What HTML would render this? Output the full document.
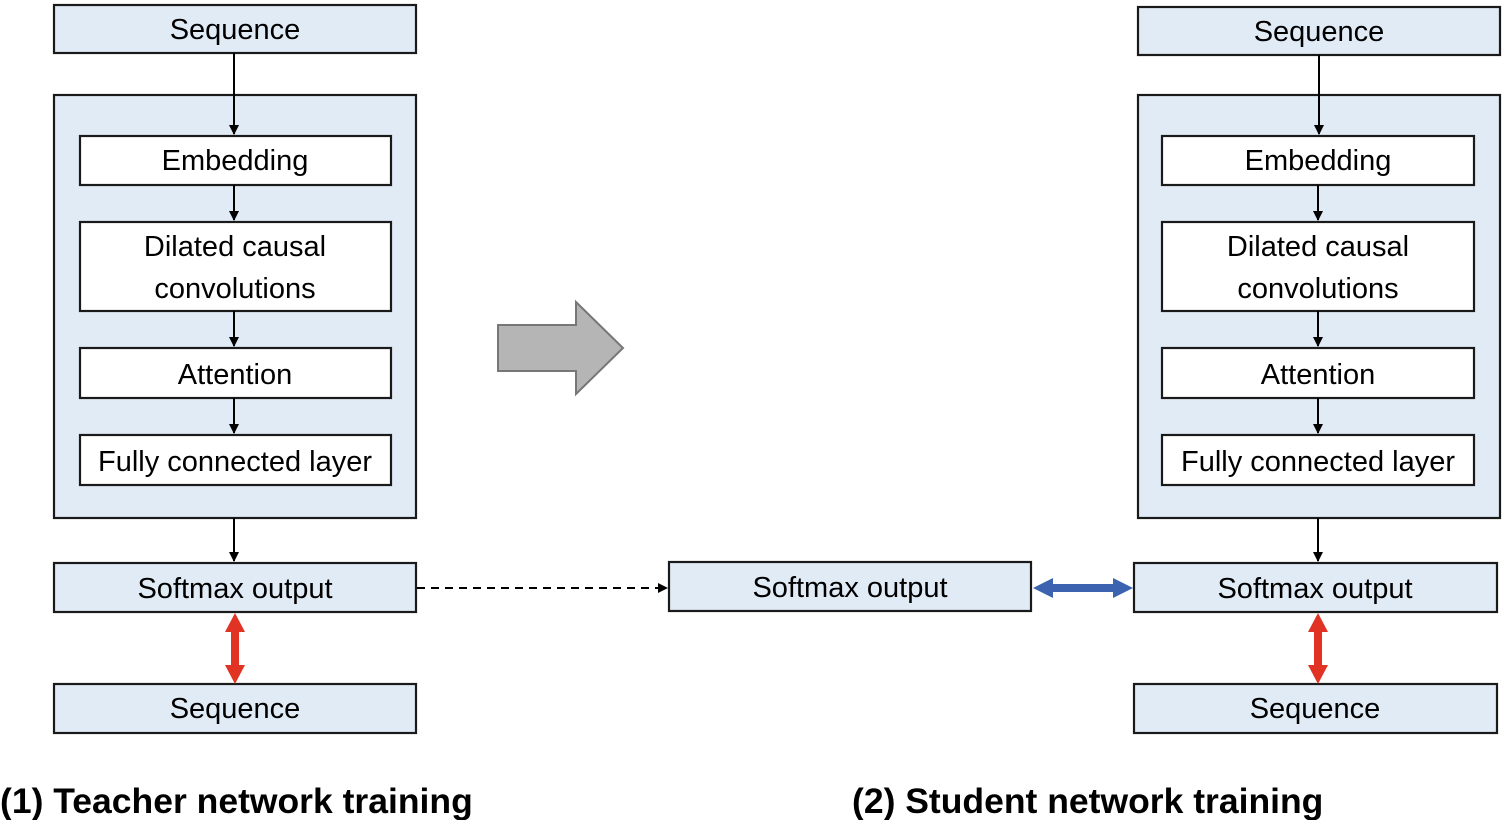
<!DOCTYPE html>
<html><head><meta charset="utf-8"><style>html,body{margin:0;padding:0;background:#fff}</style></head>
<body>
<svg width="1502" height="820" xmlns="http://www.w3.org/2000/svg" font-family="Liberation Sans, Arial, sans-serif">
<defs>
<marker id="a" markerWidth="10" markerHeight="10" refX="9" refY="5" orient="auto" markerUnits="userSpaceOnUse"><path d="M0,0 L10,5 L0,10 z" fill="#000"/></marker>
</defs>
<g stroke="#1a1a1a" stroke-width="2.2">
<rect x="54" y="5" width="362" height="48" fill="#e1ebf6"/>
<rect x="54" y="95" width="362" height="423" fill="#e1ebf6"/>
<rect x="80" y="136" width="311" height="49" fill="#fff"/>
<rect x="80" y="222" width="311" height="89" fill="#fff"/>
<rect x="80" y="348" width="311" height="50" fill="#fff"/>
<rect x="80" y="435" width="311" height="50" fill="#fff"/>
<rect x="54" y="563" width="362" height="49" fill="#e1ebf6"/>
<rect x="54" y="684" width="362" height="49" fill="#e1ebf6"/>
<rect x="1138" y="7" width="362" height="48" fill="#e1ebf6"/>
<rect x="1138" y="95" width="362" height="423" fill="#e1ebf6"/>
<rect x="1162" y="136" width="312" height="49" fill="#fff"/>
<rect x="1162" y="222" width="312" height="89" fill="#fff"/>
<rect x="1162" y="348" width="312" height="50" fill="#fff"/>
<rect x="1162" y="435" width="312" height="50" fill="#fff"/>
<rect x="1134" y="563" width="363" height="49" fill="#e1ebf6"/>
<rect x="1134" y="684" width="363" height="49" fill="#e1ebf6"/>
<rect x="669" y="562" width="362" height="49" fill="#e1ebf6"/>
</g>
<g stroke="#000" stroke-width="2" marker-end="url(#a)">
<line x1="234" y1="53" x2="234" y2="134"/>
<line x1="234" y1="185" x2="234" y2="220"/>
<line x1="234" y1="311" x2="234" y2="346"/>
<line x1="234" y1="398" x2="234" y2="433"/>
<line x1="234" y1="518" x2="234" y2="561"/>
<line x1="1319" y1="55" x2="1319" y2="134"/>
<line x1="1318" y1="185" x2="1318" y2="220"/>
<line x1="1318" y1="311" x2="1318" y2="346"/>
<line x1="1318" y1="398" x2="1318" y2="433"/>
<line x1="1318" y1="518" x2="1318" y2="561"/>
<line x1="417" y1="588" x2="667" y2="588" stroke-dasharray="8,6"/>
</g>
<polygon points="498,325 576,325 576,302 623,348 576,394 576,371 498,371" fill="#b5b5b5" stroke="#777" stroke-width="2"/>
<g fill="#e03324">
<rect x="231" y="628" width="8" height="42"/>
<polygon points="235,613 245,632 225,632"/><polygon points="235,684 245,665 225,665"/>
<rect x="1314" y="628" width="8" height="42"/>
<polygon points="1318,613 1328,632 1308,632"/><polygon points="1318,684 1328,665 1308,665"/>
</g>
<g fill="#3b63b0">
<rect x="1050" y="584" width="67" height="8"/>
<polygon points="1033,588 1053,578 1053,598"/><polygon points="1133,588 1113,578 1113,598"/>
</g>
<g font-size="29" text-anchor="middle" fill="#000">
<text x="235" y="39">Sequence</text>
<text x="235" y="170">Embedding</text>
<text x="235" y="256">Dilated causal</text>
<text x="235" y="298">convolutions</text>
<text x="235" y="384">Attention</text>
<text x="235" y="471">Fully connected layer</text>
<text x="235" y="598">Softmax output</text>
<text x="235" y="718">Sequence</text>
<text x="1319" y="41">Sequence</text>
<text x="1318" y="170">Embedding</text>
<text x="1318" y="256">Dilated causal</text>
<text x="1318" y="298">convolutions</text>
<text x="1318" y="384">Attention</text>
<text x="1318" y="471">Fully connected layer</text>
<text x="1315" y="598">Softmax output</text>
<text x="1315" y="718">Sequence</text>
<text x="850" y="597">Softmax output</text>
</g>
<g font-size="35.5" font-weight="bold" fill="#000">
<text x="0" y="813">(1) Teacher network training</text>
<text x="852" y="813">(2) Student network training</text>
</g>
</svg>
</body></html>
